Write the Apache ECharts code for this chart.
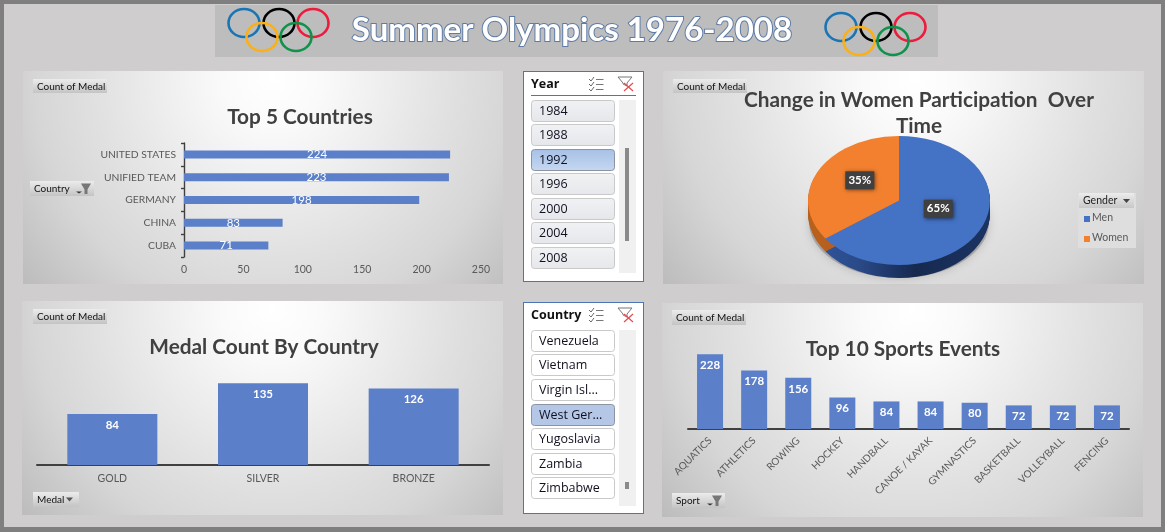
<!DOCTYPE html>
<html><head><meta charset="utf-8">
<style>html,body{margin:0;padding:0;background:#7f7f7f;overflow:hidden}#c{width:1165px;height:532px}</style>
<script src="https://cdn.jsdelivr.net/npm/echarts@6/dist/echarts.min.js"></script>
</head><body><div id="c"></div>
<script>
const countries = ['UNITED STATES','UNIFIED TEAM','GERMANY','CHINA','CUBA'];
const countryMedals = [224,223,198,83,71];
const medalTypes = ['GOLD','SILVER','BRONZE'];
const medalCounts = [84,135,126];
const sports = ['AQUATICS','ATHLETICS','ROWING','HOCKEY','HANDBALL','CANOE / KAYAK','GYMNASTICS','BASKETBALL','VOLLEYBALL','FENCING'];
const sportMedals = [228,178,156,96,84,84,80,72,72,72];
const genders = ['Men','Women'];
const genderShare = [65,35];
const years = ['1984','1988','1992','1996','2000','2004','2008'];
const selectedYear = '1992';
const sliceCountries = ['Venezuela','Vietnam','Virgin Isl...','West Ger...','Yugoslavia','Zambia','Zimbabwe'];
const selectedCountry = 'West Ger...';

const FONT = 'Lato, "Liberation Sans", sans-serif';
const BLUE = '#5b7fc8', TXT = '#595959', AXIS = '#404040';
const chart = echarts.init(document.getElementById('c'), null, {renderer:'canvas', width:1165, height:532});
const g = [];
const lin = (a,b,h) => ({type:'linear',x:h?1:0,y:0,x2:0,y2:h?0:1,colorStops:[{offset:0,color:a},{offset:1,color:b}]});
function rect(x,y,w,h,fill,stroke,r,z){g.push({type:'rect',silent:true,z:z==null?-5:z,shape:{x,y,width:w,height:h,r:r||0},style:{fill,stroke:stroke||null,lineWidth:stroke?1:0}});}
function text(x,y,t,font,fill,align,extra){g.push({type:'text',silent:true,z:6,style:Object.assign({x,y,text:t,font,fill,textAlign:align||'left',textVerticalAlign:'middle',align:align||'left',verticalAlign:'middle'},extra||{})});}
function poly(points,fill,stroke,lw,open){g.push({type:open?'polyline':'polygon',silent:true,z:6,shape:{points},style:{fill:open?null:fill,stroke:stroke||null,lineWidth:lw||1}});}

/* page */
rect(4,4,1157,523,'#cfcdcd',null,0,-20);
rect(215,5,723,52,'#bdbdbd',null,0,-19);

/* rings */
function rings(dx,dy){
  const rs=[[244,23,'#1b75b5'],[279,23,'#000000'],[313,23,'#ed1c3c'],[262,37,'#fbb017'],[296,37,'#0f924a']];
  rs.forEach(r=>g.push({type:'ellipse',silent:true,z:-4,shape:{cx:r[0]+dx,cy:r[1]+dy,rx:15.5,ry:14},style:{fill:null,stroke:r[2],lineWidth:2.6}}));
}
rings(0,0); rings(597,4);

/* panels */
function panel(x,y,w,h){
  g.push({type:'rect',silent:true,z:-10,shape:{x,y,width:w,height:h},style:{fill:{type:'radial',x:0.52,y:0.03,r:1.55,colorStops:[{offset:0,color:'#ffffff'},{offset:0.15,color:'#fafafa'},{offset:0.55,color:'#e0e0e0'},{offset:0.72,color:'#d6d6d6'},{offset:1,color:'#bababa'}]}}});
}
panel(23,71,480,213); panel(663,71,481,213); panel(22,301,481,214); panel(662,303,481,214);

/* field buttons */
function field(x,y,w,h,t,kind){
  rect(x,y,w,h,lin('#ececec','#c4c4c4'),null,0,-4);
  text(x+4,y+h/2+0.5,t,'10px '+FONT,'#111111');
  if(kind==='arrow') poly([[x+w-13,y+h/2-2],[x+w-6,y+h/2-2],[x+w-9.5,y+h/2+2]],'#555555');
  if(kind==='filter'){
    poly([[x+w-18,y+h/2+3],[x+w-12,y+h/2+3],[x+w-15,y+h/2+5]],'#333333');
    poly([[x+w-13,y+2.5],[x+w-3,y+2.5],[x+w-6.5,y+h/2+1],[x+w-6.5,y+h-2],[x+w-9.5,y+h-2],[x+w-9.5,y+h/2+1]],'#777777');
  }
}
field(33,79,74,14,'Count of Medal'); field(673,79,74,14,'Count of Medal');
field(33,309,74,15,'Count of Medal'); field(672,310,74,15,'Count of Medal');
field(30,181,64,15,'Country','filter'); field(33,492,46,15,'Medal','arrow'); field(672,493,53,15,'Sport','filter');

/* slicers */
function slicer(y,h,title,items,sel,tops,selFill,btnFill,track,thumb,midline){
  rect(523,y,121,h+1,'#4a76b8',null,0,-7);
  rect(524,y+1,119,h-1,'#ffffff',null,0,-6);
  text(531,y+13,title,'bold 12.5px "Open Sans", sans-serif','#111111');
  if(midline) rect(531,y+24,105,1,'#4a76b8',null,0,5);
  const cx=589, cy=y+6;
  [0,5,10].forEach(d=>{poly([[cx,cy+d+2],[cx+2,cy+d+4],[cx+5,cy+d]],null,'#666666',1,true);poly([[cx+7,cy+d+2.5],[cx+14.5,cy+d+2.5]],null,'#777777',1,true);});
  const fx=618, fy=y+6;
  poly([[fx,fy],[fx+14,fy],[fx+9,fy+6],[fx+9,fy+9],[fx+5,fy+7],[fx+5,fy+6],[fx,fy]],null,'#777777',1,true);
  poly([[fx+6,fy+6],[fx+15,fy+14]],null,'#e8474c',1.2,true);
  poly([[fx+15,fy+6],[fx+6,fy+14]],null,'#e8474c',1.2,true);
  items.forEach((t,i)=>{
    const on=t===sel;
    rect(531.5,tops[i]+.5,83,21,on?selFill:btnFill,on?'#8d93a3':'#c9c9c9',3,-4);
    text(539,tops[i]+11.5,t,'12.5px "Open Sans", sans-serif','#101020');
  });
  rect(619,track[0],17,track[1],'#f0f0f0',null,0,-4);
  rect(625,thumb[0],4,thumb[1],'#8a8a8a',null,0,-3);
}
slicer(71,210,'Year',years,selectedYear,[100,124,149,173,198,222,247],lin('#a6c0e6','#c6d8f1'),lin('#f1f2f4','#e6e7ea'),[100,173],[148,93],true);
slicer(302,211,'Country',sliceCountries,selectedCountry,[330,354,379,404,428,453,477],'#b4c7e7','#ffffff',[330,176],[482,7],false);

/* pie legend */
rect(1078,193,58,55,'#dedede',null,0,-4);
rect(1079,193,55,15,lin('#ececec','#c8c8c8'),null,0,-3);
text(1083,201,'Gender','10.5px '+FONT,'#222222');
poly([[1123,199],[1130,199],[1126.5,203]],'#444444');
const pieColors=['#4472c4','#f2802f'];
genders.forEach((n,i)=>{
  rect(1084,216+i*20,6,6,pieColors[i],null,0,-3);
  text(1092,218+i*20,n,'10.5px '+FONT,TXT);
});

/* pie shadow */
g.push({type:'ellipse',silent:true,z:-4,shape:{cx:899,cy:222,rx:90,ry:56},style:{fill:'rgba(120,120,120,0.45)',shadowBlur:10,shadowColor:'rgba(100,100,100,0.7)'}});

const PIE={cx:899,cy:200.5,r:91,sy:0.71,depth:13};
const total=genderShare.reduce((a,b)=>a+b,0);
function sliceAngles(i){
  let before=0; for(let k=0;k<i;k++) before+=genderShare[k];
  const a0=-Math.PI/2+before/total*Math.PI*2;
  return [a0,a0+genderShare[i]/total*Math.PI*2];
}
const sideFills=[{type:'linear',x:0,y:0,x2:1,y2:0,colorStops:[{offset:0,color:'#2f5398'},{offset:0.2,color:'#2a4a88'},{offset:0.55,color:'#16294f'},{offset:1,color:'#1c3463'}]},'#b8601f'];

const valueLabel={show:true,color:'#ffffff',fontFamily:FONT,fontSize:11.5,fontWeight:'bold'};
const titleStyle={fontFamily:FONT,fontSize:20.8,fontWeight:'bold',color:'#404040'};
const option={
  animation:false,
  backgroundColor:'#7f7f7f',
  title:[
    {text:'Summer Olympics 1976-2008',left:572,top:14,padding:0,textAlign:'center',textStyle:{fontFamily:FONT,fontSize:33,fontWeight:'bold',color:'#ffffff',textBorderColor:'#5d7ba6',textBorderWidth:2}},
    {text:'Top 5 Countries',left:300,top:107,padding:0,textAlign:'center',textStyle:titleStyle},
    {text:'Medal Count By Country',left:264,top:337,padding:0,textAlign:'center',textStyle:titleStyle},
    {text:'Top 10 Sports Events',left:903,top:339,padding:0,textAlign:'center',textStyle:titleStyle},
    {text:'Change in Women Participation  Over\nTime',left:919,top:88,padding:0,textAlign:'center',textStyle:Object.assign({},titleStyle,{lineHeight:25.5})}
  ],
  grid:[
    {left:184,top:143,width:297,height:114},
    {left:37,top:368,width:452,height:97},
    {left:688,top:347,width:441,height:82}
  ],
  xAxis:[
    {gridIndex:0,type:'value',min:0,max:250,interval:50,splitLine:{show:false},axisLine:{show:false},axisTick:{show:false},axisLabel:{color:TXT,fontFamily:FONT,fontSize:10.5,margin:7}},
    {gridIndex:1,type:'category',data:medalTypes,axisLine:{lineStyle:{color:AXIS,width:2}},axisTick:{show:false},axisLabel:{color:TXT,fontFamily:FONT,fontSize:10.5,margin:8}},
    {gridIndex:2,type:'category',data:sports,axisLine:{lineStyle:{color:AXIS,width:2}},axisTick:{show:false},axisLabel:{color:TXT,fontFamily:FONT,fontSize:10,rotate:45,margin:10,interval:0}}
  ],
  yAxis:[
    {gridIndex:0,type:'category',inverse:true,data:countries,axisLine:{lineStyle:{color:AXIS,width:1.4}},axisTick:{show:true,length:3,lineStyle:{color:AXIS,width:1.4}},axisLabel:{color:TXT,fontFamily:FONT,fontSize:10.3,margin:8}},
    {gridIndex:1,type:'value',min:0,max:160,show:false},
    {gridIndex:2,type:'value',min:0,max:250,show:false}
  ],
  series:[
    {name:'Top 5 Countries',type:'bar',xAxisIndex:0,yAxisIndex:0,data:countryMedals,barWidth:8,itemStyle:{color:BLUE},label:Object.assign({},valueLabel,{position:'inside',fontWeight:'normal'})},
    {name:'Medal Count',type:'bar',xAxisIndex:1,yAxisIndex:1,data:medalCounts,barWidth:90,itemStyle:{color:BLUE},label:Object.assign({},valueLabel,{position:'insideTop',distance:5})},
    {name:'Top 10 Sports',type:'bar',xAxisIndex:2,yAxisIndex:2,data:sportMedals,barWidth:26,itemStyle:{color:BLUE},label:Object.assign({},valueLabel,{position:'insideTop',distance:5})},
    {name:'Pie side',type:'custom',coordinateSystem:'none',z:3,silent:true,data:genderShare.map(v=>[v]),renderItem(p){
      const a=sliceAngles(p.dataIndex),kids=[];
      for(let d=PIE.depth;d>=1;d-=1){
        kids.push({type:'sector',x:PIE.cx,y:PIE.cy+d,scaleY:PIE.sy,shape:{cx:0,cy:0,r:PIE.r,r0:0,startAngle:a[0],endAngle:a[1],clockwise:true},style:{fill:sideFills[p.dataIndex]}});
      }
      return {type:'group',children:kids};
    }},
    {name:'Change in Women Participation',type:'custom',coordinateSystem:'none',z:4,silent:true,data:genderShare.map(v=>[v]),renderItem(p,api){
      const a=sliceAngles(p.dataIndex),mid=(a[0]+a[1])/2;
      return {type:'group',children:[
        {type:'sector',x:PIE.cx,y:PIE.cy,scaleY:PIE.sy,shape:{cx:0,cy:0,r:PIE.r,r0:0,startAngle:a[0],endAngle:a[1],clockwise:true},style:{fill:pieColors[p.dataIndex]}},
        {type:'rect',z2:5,shape:{x:PIE.cx+Math.cos(mid)*44-14.5,y:PIE.cy-6+Math.sin(mid)*44*PIE.sy-9,width:29,height:18},style:{fill:'#404040',shadowBlur:4,shadowOffsetX:1,shadowOffsetY:1,shadowColor:'rgba(0,0,0,0.55)'}},
        {type:'text',z2:6,style:{x:PIE.cx+Math.cos(mid)*44,y:PIE.cy-6+Math.sin(mid)*44*PIE.sy,text:api.value(0)+'%',fill:'#ffffff',font:'bold 11.5px '+FONT,textAlign:'center',textVerticalAlign:'middle',align:'center',verticalAlign:'middle'}}
      ]};
    }}
  ],
  graphic:{elements:g}
};
chart.setOption(option);
</script></body></html>
